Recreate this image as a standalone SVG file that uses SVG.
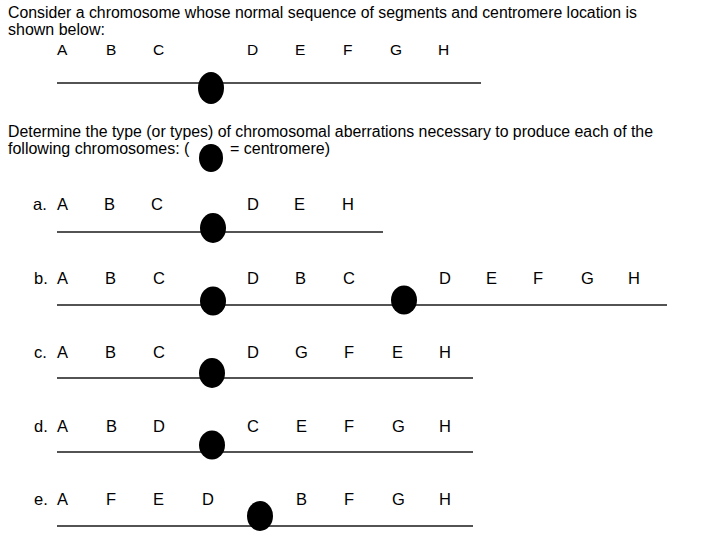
<svg xmlns="http://www.w3.org/2000/svg" width="705" height="546" viewBox="0 0 705 546">
<style>
  .body { font-family: "Liberation Sans", Arial, sans-serif; font-size: 16px; fill: #000; }
  .seg { font-family: "Liberation Sans", Arial, sans-serif; font-size: 16.5px; fill: #000; }
  .segtop { font-family: "Liberation Sans", Arial, sans-serif; font-size: 15.5px; fill: #000; }
  .chrom { stroke: #1a1a1a; stroke-width: 1.4; fill: none; }
  .cen { fill: #000; }
</style>
<rect width="705" height="546" fill="#fff"/>

<g id="intro">
  <text class="body" x="8" y="18" textLength="629" lengthAdjust="spacingAndGlyphs">Consider a chromosome whose normal sequence of segments and centromere location is</text>
  <text class="body" x="8" y="35">shown below:</text>
</g>

<g id="normal">
  <text class="segtop" x="57" y="55">A</text>
  <text class="segtop" x="106" y="55">B</text>
  <text class="segtop" x="153" y="55">C</text>
  <text class="segtop" x="247" y="55">D</text>
  <text class="segtop" x="295" y="55">E</text>
  <text class="segtop" x="343" y="55">F</text>
  <text class="segtop" x="390" y="55">G</text>
  <text class="segtop" x="438" y="55">H</text>
  <line class="chrom" x1="57" y1="83" x2="481" y2="83"/>
  <ellipse class="cen" cx="211" cy="88" rx="13" ry="16"/>
</g>

<g id="instruction">
  <text class="body" x="8" y="137" textLength="645" lengthAdjust="spacingAndGlyphs">Determine the type (or types) of chromosomal aberrations necessary to produce each of the</text>
  <text class="body" x="8" y="154">following chromosomes: (</text>
  <ellipse class="cen" cx="211" cy="158" rx="12" ry="14"/>
  <text class="body" x="230" y="154">= centromere)</text>
</g>

<g id="row-a">
  <text class="seg" x="33" y="210">a.</text>
  <text class="seg" x="57" y="210">A</text>
  <text class="seg" x="104" y="210">B</text>
  <text class="seg" x="151" y="210">C</text>
  <text class="seg" x="247" y="210">D</text>
  <text class="seg" x="294" y="210">E</text>
  <text class="seg" x="342" y="210">H</text>
  <line class="chrom" x1="57" y1="232" x2="383" y2="232"/>
  <ellipse class="cen" cx="213" cy="228" rx="13" ry="15"/>
</g>

<g id="row-b">
  <text class="seg" x="34" y="284">b.</text>
  <text class="seg" x="57" y="284">A</text>
  <text class="seg" x="105" y="284">B</text>
  <text class="seg" x="153" y="284">C</text>
  <text class="seg" x="247" y="284">D</text>
  <text class="seg" x="295" y="284">B</text>
  <text class="seg" x="343" y="284">C</text>
  <text class="seg" x="439" y="284">D</text>
  <text class="seg" x="486" y="284">E</text>
  <text class="seg" x="533" y="284">F</text>
  <text class="seg" x="581" y="284">G</text>
  <text class="seg" x="628" y="284">H</text>
  <line class="chrom" x1="57" y1="305" x2="667" y2="305"/>
  <ellipse class="cen" cx="213" cy="301" rx="13" ry="14.5"/>
  <ellipse class="cen" cx="404" cy="300" rx="13" ry="14.5"/>
</g>

<g id="row-c">
  <text class="seg" x="34" y="358">c.</text>
  <text class="seg" x="57" y="358">A</text>
  <text class="seg" x="105" y="358">B</text>
  <text class="seg" x="153" y="358">C</text>
  <text class="seg" x="247" y="358">D</text>
  <text class="seg" x="295" y="358">G</text>
  <text class="seg" x="344" y="358">F</text>
  <text class="seg" x="392" y="358">E</text>
  <text class="seg" x="439" y="358">H</text>
  <line class="chrom" x1="57" y1="378" x2="473" y2="378"/>
  <ellipse class="cen" cx="212" cy="373" rx="13" ry="15"/>
</g>

<g id="row-d">
  <text class="seg" x="34" y="432">d.</text>
  <text class="seg" x="57" y="432">A</text>
  <text class="seg" x="106" y="432">B</text>
  <text class="seg" x="153" y="432">D</text>
  <text class="seg" x="247" y="432">C</text>
  <text class="seg" x="296" y="432">E</text>
  <text class="seg" x="344" y="432">F</text>
  <text class="seg" x="392" y="432">G</text>
  <text class="seg" x="439" y="432">H</text>
  <line class="chrom" x1="57" y1="452" x2="473" y2="452"/>
  <ellipse class="cen" cx="212" cy="445" rx="13" ry="14.5"/>
</g>

<g id="row-e">
  <text class="seg" x="34" y="505">e.</text>
  <text class="seg" x="57" y="505">A</text>
  <text class="seg" x="106" y="505">F</text>
  <text class="seg" x="153" y="505">E</text>
  <text class="seg" x="202" y="505">D</text>
  <text class="seg" x="296" y="505">B</text>
  <text class="seg" x="344" y="505">F</text>
  <text class="seg" x="392" y="505">G</text>
  <text class="seg" x="439" y="505">H</text>
  <line class="chrom" x1="57" y1="526" x2="473" y2="526"/>
  <ellipse class="cen" cx="260" cy="516" rx="13" ry="15"/>
</g>
</svg>
